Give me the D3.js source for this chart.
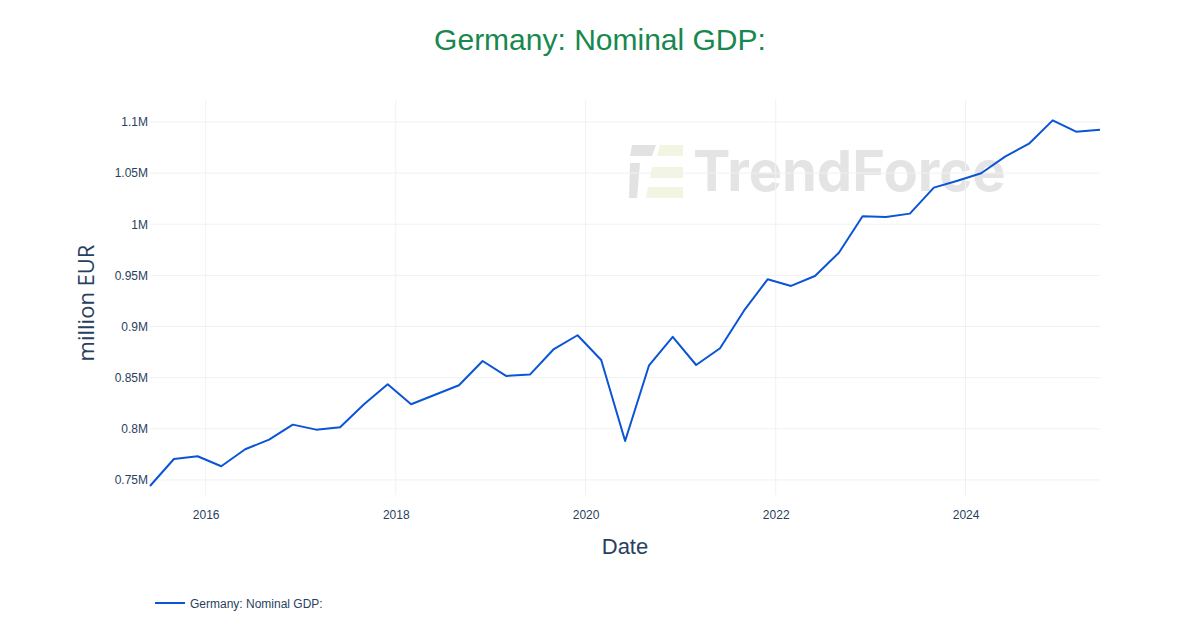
<!DOCTYPE html>
<html>
<head>
<meta charset="utf-8">
<script src="https://cdn.jsdelivr.net/npm/d3@7"></script>
<style>
  body { margin: 0; background: #fff; }
  svg { font-family: "Liberation Sans", Arial, sans-serif; }
</style>
</head>
<body>
<svg id="chart" width="1200" height="630"></svg>
<script>
// quarterly dates (1st of Mar/Jun/Sep/Dec)
var dates = [
  "2015-06-01","2015-09-01","2015-12-01","2016-03-01","2016-06-01","2016-09-01","2016-12-01",
  "2017-03-01","2017-06-01","2017-09-01","2017-12-01","2018-03-01","2018-06-01","2018-09-01",
  "2018-12-01","2019-03-01","2019-06-01","2019-09-01","2019-12-01","2020-03-01","2020-06-01",
  "2020-09-01","2020-12-01","2021-03-01","2021-06-01","2021-09-01","2021-12-01","2022-03-01",
  "2022-06-01","2022-09-01","2022-12-01","2023-03-01","2023-06-01","2023-09-01","2023-12-01",
  "2024-03-01","2024-06-01","2024-09-01","2024-12-01","2025-03-01","2025-06-01"
];
// million EUR
var gdp = [
  744100, 770500, 773200, 763400, 780000, 789400, 804100,
  799200, 801500, 824000, 843600, 824000, 833300, 842600,
  866300, 851700, 853000, 878000, 891500, 867300, 788100,
  862100, 890000, 862400, 878800, 915500, 946200, 939700,
  949400, 972200, 1007800, 1007100, 1010400, 1035800, 1042600,
  1049900, 1066100, 1078800, 1101600, 1090500, 1092400
];
var yTicks = [750000, 800000, 850000, 900000, 950000, 1000000, 1050000, 1100000];
var yTickLabels = ["0.75M", "0.8M", "0.85M", "0.9M", "0.95M", "1M", "1.05M", "1.1M"];
var xTickYears = ["2016", "2018", "2020", "2022", "2024"];
var yRange = [735300, 1121500];

var seriesName = "Germany: Nominal GDP:";
var lineColor = "#0a55d6";
var textColor = "#2a3f5f";
var gridColor = "#f1f1f1";

var svg = d3.select("#chart");
var margin = {top: 100, right: 100, bottom: 135, left: 150};
var width = 1200 - margin.left - margin.right;
var height = 630 - margin.top - margin.bottom;

var parse = d3.timeParse("%Y-%m-%d");
var data = dates.map(function (d, i) {
  return {date: parse(d), value: gdp[i]};
});

var x = d3.scaleTime()
  .domain(d3.extent(data, function (d) { return d.date; }))
  .range([0, width]);

var y = d3.scaleLinear()
  .domain(yRange)
  .range([height, 0]);

var g = svg.append("g")
  .attr("transform", "translate(" + margin.left + "," + margin.top + ")");

// watermark
var wm = g.append("g").attr("transform", "translate(476,45)").attr("opacity", 0.8);
wm.append("path")
  .attr("d", "M6,0 L30,0 L26,11 L4,11 Z M4,18 L14,18 L11,53 L3,53 Z")
  .attr("fill", "#dcdcdc");
wm.append("path")
  .attr("d", "M34,0 L57,0 L57,11 L31,11 Z M26,22 L57,22 L57,33 L24,33 Z M22,42 L57,42 L57,53 L20,53 Z")
  .attr("fill", "#eef3dc");
wm.append("text")
  .attr("x", 67)
  .attr("y", 46)
  .attr("font-size", 56)
  .attr("font-weight", "bold")
  .attr("fill", "#dedede")
  .attr("font-family", "Inter, 'Open Sans', sans-serif")
  .text("TrendForce");

// grid
g.append("g")
  .selectAll("line")
  .data(yTicks)
  .enter().append("line")
  .attr("x1", 0).attr("x2", width)
  .attr("y1", function (d) { return y(d); })
  .attr("y2", function (d) { return y(d); })
  .attr("stroke", gridColor)
  .attr("stroke-width", 1);

var xTickVals = xTickYears.map(function (s) { return parse(s + "-01-01"); });
g.append("g")
  .selectAll("line")
  .data(xTickVals)
  .enter().append("line")
  .attr("x1", function (d) { return x(d); })
  .attr("x2", function (d) { return x(d); })
  .attr("y1", 0).attr("y2", height)
  .attr("stroke", gridColor)
  .attr("stroke-width", 1);

// axes
var yAxis = d3.axisLeft(y)
  .tickValues(yTicks)
  .tickSize(0)
  .tickPadding(2)
  .tickFormat(function (d, i) { return yTickLabels[i]; });

var yG = g.append("g").call(yAxis);
yG.select(".domain").remove();
yG.selectAll("text")
  .attr("font-size", 12)
  .attr("fill", textColor)
  .attr("font-family", "'Liberation Sans', Arial, sans-serif");

var xAxis = d3.axisBottom(x)
  .tickValues(xTickVals)
  .tickSize(0)
  .tickPadding(15)
  .tickFormat(d3.timeFormat("%Y"));

var xG = g.append("g")
  .attr("transform", "translate(0," + height + ")")
  .call(xAxis);
xG.select(".domain").remove();
xG.selectAll("text")
  .attr("font-size", 12)
  .attr("fill", textColor)
  .attr("font-family", "'Liberation Sans', Arial, sans-serif");

// line
var line = d3.line()
  .x(function (d) { return x(d.date); })
  .y(function (d) { return y(d.value); });

g.append("path")
  .datum(data)
  .attr("fill", "none")
  .attr("stroke", lineColor)
  .attr("stroke-width", 2)
  .attr("stroke-linejoin", "round")
  .attr("d", line);

// titles
svg.append("text")
  .attr("x", 600)
  .attr("y", 50)
  .attr("text-anchor", "middle")
  .attr("font-size", 30)
  .attr("fill", "#17884e")
  .attr("font-family", "'Liberation Sans', Arial, sans-serif")
  .text(seriesName);

svg.append("text")
  .attr("x", margin.left + width / 2)
  .attr("y", 554)
  .attr("text-anchor", "middle")
  .attr("font-size", 22)
  .attr("fill", textColor)
  .attr("font-family", "'Liberation Sans', Arial, sans-serif")
  .text("Date");

svg.append("text")
  .attr("transform", "translate(94,303) rotate(-90)")
  .attr("text-anchor", "middle")
  .attr("font-size", 22)
  .attr("fill", textColor)
  .attr("font-family", "'Open Sans', Arial, sans-serif")
  .text("million EUR");

// legend
var legend = svg.append("g").attr("transform", "translate(155,603)");
legend.append("line")
  .attr("x1", 0).attr("x2", 30)
  .attr("y1", 0).attr("y2", 0)
  .attr("stroke", lineColor)
  .attr("stroke-width", 2);
legend.append("text")
  .attr("x", 35)
  .attr("y", 4.5)
  .attr("font-size", 12)
  .attr("fill", textColor)
  .attr("font-family", "'Liberation Sans', Arial, sans-serif")
  .text(seriesName);
</script>
</body>
</html>
